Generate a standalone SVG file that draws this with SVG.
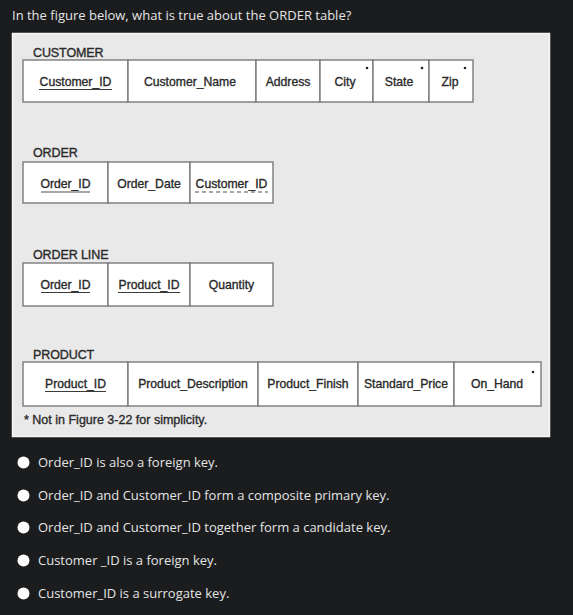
<svg xmlns="http://www.w3.org/2000/svg" width="573" height="615" viewBox="0 0 573 615">
<style>
.q{font-family:"Open Sans","Noto Sans",sans-serif;font-size:13px;fill:#e4e4e4}
.lbl{font-family:"Liberation Sans",Arial,sans-serif;font-size:12.5px;fill:#2a2a2a;stroke:#2a2a2a;stroke-width:0.35;letter-spacing:-0.1px}
.c{font-family:"Liberation Sans",Arial,sans-serif;font-size:12.2px;fill:#2a2a2a;stroke:#2a2a2a;stroke-width:0.35;text-anchor:middle}
.cell{fill:#ffffff;stroke:#7a7a7a;stroke-width:1.4}
.ul{stroke:#3a3a3a;stroke-width:1}
.ulg{stroke:#8a8a8a;stroke-width:1.6}
.dash{stroke:#8a8a8a;stroke-width:1.6;stroke-dasharray:4 3}
.dot{fill:#222}
.bullet{fill:#ffffff}
</style>
<rect x="0" y="0" width="573" height="615" fill="#1b1c1e"/>
<text class="q" x="12" y="20">In the figure below, what is true about the ORDER table?</text>
<rect x="12.5" y="33.5" width="537" height="403" fill="#e9e9e9" stroke="#f6f6f6" stroke-width="1.5"/>

<g id="customer">
<text class="lbl" x="33" y="57">CUSTOMER</text>
<rect class="cell" x="23" y="60" width="105" height="42"/>
<rect class="cell" x="128" y="60" width="128" height="42"/>
<rect class="cell" x="256" y="60" width="64" height="42"/>
<rect class="cell" x="320" y="60" width="53" height="42"/>
<rect class="cell" x="373" y="60" width="56" height="42"/>
<rect class="cell" x="429" y="60" width="44" height="42"/>
<text class="c" x="75.5" y="86">Customer_ID</text>
<line class="ul" x1="39" y1="89.5" x2="112" y2="89.5"/>
<text class="c" x="190" y="86">Customer_Name</text>
<text class="c" x="288" y="86">Address</text>
<text class="c" x="345" y="86">City</text>
<text class="c" x="399" y="86">State</text>
<text class="c" x="450" y="86">Zip</text>
<circle class="dot" cx="367" cy="68" r="1.3"/>
<circle class="dot" cx="422" cy="68" r="1.3"/>
<circle class="dot" cx="465" cy="68" r="1.3"/>
</g>

<g id="order">
<text class="lbl" x="33" y="157">ORDER</text>
<rect class="cell" x="23" y="162" width="85" height="41"/>
<rect class="cell" x="108" y="162" width="82" height="41"/>
<rect class="cell" x="190" y="162" width="83" height="41"/>
<text class="c" x="65.5" y="188">Order_ID</text>
<line class="ulg" x1="41" y1="192" x2="90" y2="192"/>
<text class="c" x="149" y="188">Order_Date</text>
<text class="c" x="231.5" y="188">Customer_ID</text>
<line class="dash" x1="195" y1="192" x2="268" y2="192"/>
</g>

<g id="order_line">
<text class="lbl" x="33" y="259">ORDER LINE</text>
<rect class="cell" x="23" y="263" width="85" height="43"/>
<rect class="cell" x="108" y="263" width="82" height="43"/>
<rect class="cell" x="190" y="263" width="83" height="43"/>
<text class="c" x="65.5" y="289">Order_ID</text>
<line class="ul" x1="41" y1="292.5" x2="90" y2="292.5"/>
<text class="c" x="149" y="289">Product_ID</text>
<line class="ul" x1="118" y1="292.5" x2="180" y2="292.5"/>
<text class="c" x="231.5" y="289">Quantity</text>
</g>

<g id="product">
<text class="lbl" x="33" y="359">PRODUCT</text>
<rect class="cell" x="23" y="362" width="105" height="44"/>
<rect class="cell" x="128" y="362" width="130" height="44"/>
<rect class="cell" x="258" y="362" width="100" height="44"/>
<rect class="cell" x="358" y="362" width="96" height="44"/>
<rect class="cell" x="454" y="362" width="87" height="44"/>
<text class="c" x="75.5" y="388">Product_ID</text>
<line class="ul" x1="45" y1="391.5" x2="106" y2="391.5"/>
<text class="c" x="193" y="388">Product_Description</text>
<text class="c" x="308" y="388">Product_Finish</text>
<text class="c" x="406" y="388">Standard_Price</text>
<text class="c" x="497" y="388">On_Hand</text>
<circle class="dot" cx="533" cy="372" r="1.3"/>
</g>

<text class="c" x="24" y="424" style="text-anchor:start;font-size:12.5px">* Not in Figure 3-22 for simplicity.</text>

<g id="options">
<circle class="bullet" cx="23.5" cy="462.5" r="6"/>
<text class="q" x="38" y="467">Order_ID is also a foreign key.</text>
<circle class="bullet" cx="23.5" cy="495.5" r="6"/>
<text class="q" x="38" y="500">Order_ID and Customer_ID form a composite primary key.</text>
<circle class="bullet" cx="23.5" cy="527.5" r="6"/>
<text class="q" x="38" y="532">Order_ID and Customer_ID together form a candidate key.</text>
<circle class="bullet" cx="23.5" cy="560.5" r="6"/>
<text class="q" x="38" y="565">Customer _ID is a foreign key.</text>
<circle class="bullet" cx="23.5" cy="593.5" r="6"/>
<text class="q" x="38" y="598">Customer_ID is a surrogate key.</text>
</g>
</svg>
